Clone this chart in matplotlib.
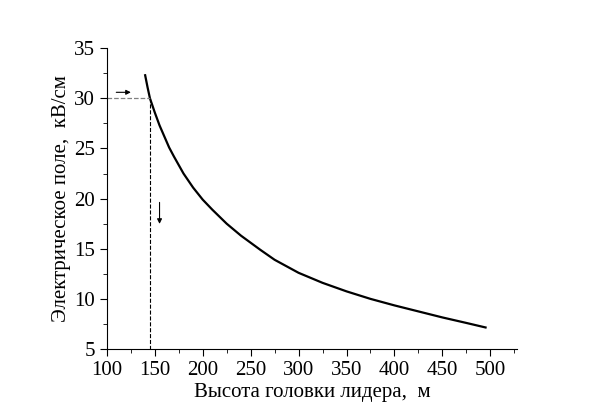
import matplotlib
matplotlib.use("Agg")
import matplotlib.pyplot as plt
from matplotlib.ticker import MultipleLocator

h = [140, 142.5, 145, 150, 155, 160, 165, 170, 180, 190, 200, 210, 225, 240, 250,
     260, 275, 300, 325, 350, 375, 400, 425, 450, 475, 495]
E = [32.3, 31.1, 30.0, 28.6, 27.3, 26.2, 25.1, 24.2, 22.5, 21.1, 19.9, 18.9, 17.5, 16.3, 15.6,
     14.9, 13.9, 12.6, 11.6, 10.75, 10.0, 9.35, 8.75, 8.15, 7.6, 7.15]

plt.rcParams['font.family'] = ['Liberation Serif']
fig = plt.figure(figsize=(6, 4.19), dpi=100)
ax = fig.add_axes([0.178, 0.167, 0.684, 0.718])
ax.plot(h, E, color='black', lw=1.6)
ax.plot([100, 145], [30, 30], ls='--', color='gray', lw=0.9)
ax.plot([145, 145], [30, 5], ls='--', color='black', lw=0.8)
ax.annotate('', xy=(128, 30.6), xytext=(107, 30.6), arrowprops=dict(arrowstyle='-|>', lw=0.8, color='black', mutation_scale=7))
ax.annotate('', xy=(155, 17.2), xytext=(155, 19.9), arrowprops=dict(arrowstyle='-|>', lw=0.8, color='black', mutation_scale=7))
ax.set_xlim(100, 528)
ax.set_ylim(5, 35)
ax.xaxis.set_major_locator(MultipleLocator(50))
ax.xaxis.set_minor_locator(MultipleLocator(25))
ax.yaxis.set_major_locator(MultipleLocator(5))
ax.yaxis.set_minor_locator(MultipleLocator(2.5))
for s in ['top', 'right']:
    ax.spines[s].set_visible(False)
ax.tick_params(which='both', direction='out', labelsize=15)
ax.tick_params(which='major', length=5)
ax.tick_params(which='minor', length=3)
ax.set_xlabel('Высота головки лидера,  м', fontsize=15, labelpad=2)
ax.set_ylabel('Электрическое поле,  кВ/см', fontsize=15, labelpad=2)
fig.savefig('out.png', dpi=100)
